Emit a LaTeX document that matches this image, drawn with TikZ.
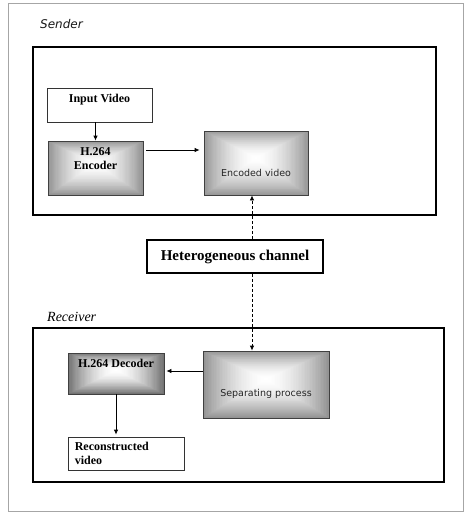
\documentclass[tikz,border=0pt]{standalone}
\usepackage{fontspec}
\setmainfont{Liberation Serif}
\newfontfamily\sansf{DejaVu Sans}
\usetikzlibrary{arrows.meta,calc}
\begin{document}
\begin{tikzpicture}[x=1pt,y=-1pt,
  frame/.style={draw=gray!70,line width=0.8pt},
  group/.style={draw=black,line width=2.4pt},
  plain/.style={draw=black!80,line width=0.8pt,fill=white,inner sep=0pt},
  gradbox/.style={draw=black!75,line width=0.8pt,inner sep=0pt,
    path picture={
      \coordinate (gc) at ($(path picture bounding box.north)!0.42!(path picture bounding box.south)$);
      \foreach \i in {0,...,39}{
        \pgfmathsetmacro\tt{\i/40}
        \pgfmathsetmacro\pp{#1*(1-\tt)^1.7}
        \fill[black!\pp] ($(path picture bounding box.south west)!\tt!(gc)$) rectangle ($(path picture bounding box.north east)!\tt!(gc)$);
      }}},
  lab/.style={font=\fontsize{12}{14}\selectfont\bfseries,inner sep=0pt,align=center},
  slab/.style={font=\sansf\fontsize{9.5}{11}\selectfont,text=black!85,inner sep=0pt},
  arr/.style={-{Latex[length=5pt,width=4.5pt]},line width=0.8pt,black}]
\useasboundingbox (0,0) rectangle (474,515);
\fill[white] (0,0) rectangle (474,515);
% frames
\draw[frame] (8,3) rectangle (463,511);
\draw[group] (33,47) rectangle (436,215);
\draw[group] (33,328) rectangle (444,482);
\node[anchor=base west,font=\sansf\itshape\fontsize{12}{14}\selectfont,text=black!90,inner sep=0pt] (sender) at (40,28) {Sender};
\node[anchor=base west,font=\itshape\fontsize{14}{16}\selectfont,inner sep=0pt] (receiver) at (47,321) {Receiver};
% sender nodes
\node[plain,minimum width=105pt,minimum height=34pt,label={[lab,anchor=north,yshift=-6pt]north:Input Video}] (input) at (99.5,105) {};
\node[gradbox=42,minimum width=95pt,minimum height=54pt,label={[lab,anchor=north,yshift=-7pt]north:H.264\\Encoder}] (enc) at (95.5,168) {};
\node[gradbox=40,minimum width=104pt,minimum height=64pt,label={[slab,yshift=-10pt]center:Encoded video}] (encv) at (256,163) {};
% channel
\node[plain,draw=black,line width=1.6pt,minimum width=176pt,minimum height=33pt,font=\fontsize{15}{17}\selectfont\bfseries] (het) at (235,256.5) {Heterogeneous channel};
% receiver nodes
\node[gradbox=55,minimum width=96pt,minimum height=41pt,label={[lab,anchor=north,yshift=-6pt]north:H.264 Decoder}] (dec) at (116,373.5) {};
\node[gradbox=42,minimum width=126pt,minimum height=67pt,label={[slab,yshift=-9.5pt]center:Separating process}] (sep) at (266,384.5) {};
\node[plain,minimum width=116pt,minimum height=33pt,label={[lab,align=left,anchor=north west,xshift=7pt,yshift=-5pt]north west:Reconstructed\\video}] (rec) at (126,453.5) {};
% connectors
\draw[arr] (enc.north |- input.south) -- (enc.north);
\coordinate (e1) at ([yshift=18pt]enc.east);
\draw[arr] ([xshift=3pt]e1) -- ([xshift=-4pt]encv.west |- e1);
\coordinate (cx) at ([xshift=-4pt]encv.south);
\draw[arr,dashed,dash pattern=on 3pt off 2pt] (cx |- het.north) -- (cx);
\draw[arr,dashed,dash pattern=on 3pt off 2pt] (cx |- het.south) -- (cx |- sep.north);
\coordinate (d1) at ([yshift=2.5pt,xshift=2pt]dec.east);
\draw[arr] (sep.west |- d1) -- (d1);
\draw[arr] (dec.south) -- ([yshift=2pt]dec.south |- rec.north);
\end{tikzpicture}
\end{document}
